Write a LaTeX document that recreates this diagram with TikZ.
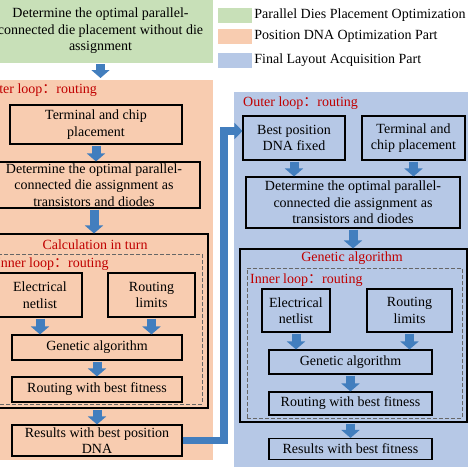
\documentclass[tikz,border=0pt]{standalone}
\usepackage{fontspec}
\setmainfont{Liberation Serif}
\newfontfamily\cjk{Noto Sans CJK SC}
\usetikzlibrary{arrows.meta}
\usetikzlibrary{positioning}
\definecolor{dieGreen}{RGB}{200,224,184}
\definecolor{dnaOrange}{RGB}{248,204,176}
\definecolor{layBlue}{RGB}{182,200,230}
\definecolor{arrBlue}{RGB}{66,126,190}
\definecolor{loopRed}{RGB}{192,0,0}
\newcommand{\fwcolon}{{\cjk ：}}

\begin{document}
\begin{tikzpicture}[x=1pt,y=-1pt,
    font=\fontsize{14}{16.5}\selectfont,
    box/.style={draw=black,line width=1.1pt,align=center,inner sep=0pt},
    region/.style={inner sep=0pt,outer sep=0pt},
    loopbox/.style={draw=gray!80!black,line width=0.8pt,dash pattern=on 4pt off 2pt,inner sep=0pt},
    looptext/.style={text=loopRed,inner sep=0pt},
    keybox/.style={inner sep=0pt,minimum width=34pt,minimum height=15pt},
    flow/.style={draw=arrBlue,line width=9pt,-{Triangle[width=18pt,length=8pt]},shorten <=1pt},
    link/.style={draw=arrBlue,line width=7.5pt,line join=miter,-{Triangle[width=16pt,length=8pt]}}]
    \useasboundingbox (0,0) rectangle (474,474);
    \clip (0,0) rectangle (474,474);
    \fill[white] (0,0) rectangle (474,474);

    \node[region,fill=dieGreen,minimum width=225pt,minimum height=64pt,align=center] (green) at (100.5,31)
      {Determine the optimal parallel-\\connected die placement without die\\assignment};
    \node[region,fill=dnaOrange,minimum width=233pt,minimum height=380pt] (dna) at (96.5,270) {};
    \node[region,fill=layBlue,minimum width=234pt,minimum height=375pt] (lay) at (351,279.5) {};

    \node[keybox,fill=dieGreen]  (keyG) at (235,15) {};
    \node[keybox,fill=dnaOrange] (keyO) at (235,36) {};
    \node[keybox,fill=layBlue]   (keyB) at (235,60) {};
    \node[right=2pt of keyG,inner sep=0pt] (txtG) {Parallel Dies Placement Optimization};
    \node[right=2pt of keyO,inner sep=0pt] (txtO) {Position DNA Optimization Part};
    \node[right=2pt of keyB,inner sep=0pt] (txtB) {Final Layout Acquisition Part};

    \node[looptext,anchor=west] (outerA) at (-18,90) {Outer loop\fwcolon routing};
    \node[box,minimum width=172pt,minimum height=39pt] (term) at (96,124.5) {Terminal and chip\\placement};
    \node[box,minimum width=212pt,minimum height=46pt] (det) at (94,185)
      {Determine the optimal parallel-\\connected die assignment as\\transistors and diodes};
    \node[box,minimum width=226pt,minimum height=174pt] (calc) at (95,321) {};
    \node[looptext] (calcT) at (95,245) {Calculation in turn};
    \node[loopbox,minimum width=214pt,minimum height=150pt] (innerA) at (95,329) {};
    \node[looptext,anchor=west] (innerAT) at (-4,264) {Inner loop\fwcolon routing};
    \node[box,minimum width=84pt,minimum height=44pt] (enet) at (40,295) {Electrical\\netlist};
    \node[box,minimum width=87pt,minimum height=44pt] (rlim) at (151.5,295) {Routing\\limits};
    \node[box,minimum width=170pt,minimum height=25pt] (ga) at (97,347.5) {Genetic algorithm};
    \node[box,minimum width=170pt,minimum height=25pt] (rbest) at (97,389.5) {Routing with best fitness};
    \node[box,minimum width=170pt,minimum height=31pt] (res) at (97,440.5) {Results with best position\\DNA};

    \node[looptext,anchor=west] (outerB) at (243,103) {Outer loop\fwcolon routing};
    \node[box,minimum width=102pt,minimum height=44pt] (bpos) at (294,138) {Best position\\DNA fixed};
    \node[box,minimum width=103pt,minimum height=44pt] (term2) at (413.5,138) {Terminal and\\chip placement};
    \node[box,minimum width=214pt,minimum height=51pt] (det2) at (353,202.5)
      {Determine the optimal parallel-\\connected die assignment as\\transistors and diodes};
    \node[box,minimum width=227pt,minimum height=173pt] (gen) at (353.5,335.5) {};
    \node[looptext] (genT) at (352,258) {Genetic algorithm};
    \node[loopbox,minimum width=215pt,minimum height=150pt] (innerB) at (354.5,343) {};
    \node[looptext,anchor=west] (innerBT) at (250,280) {Inner loop\fwcolon routing};
    \node[box,minimum width=68pt,minimum height=43pt] (enet2) at (296,310.5) {Electrical\\netlist};
    \node[box,minimum width=85pt,minimum height=43pt] (rlim2) at (409.5,310.5) {Routing\\limits};
    \node[box,minimum width=163pt,minimum height=24pt] (ga2) at (350.5,362) {Genetic algorithm};
    \node[box,minimum width=163pt,minimum height=23pt] (rbest2) at (350.5,403.5) {Routing with best fitness};
    \node[box,minimum width=163pt,minimum height=21pt] (res2) at (350.5,449) {Results with best fitness};

    \draw[flow,shorten >=2pt] (green.south) -- (green.south |- dna.north);
    \draw[flow] (term.south) -- (term.south |- det.north);
    \draw[flow] (det.south) -- (det.south |- calc.north);
    \draw[flow] (enet.south) -- (enet.south |- ga.north);
    \draw[flow] (rlim.south) -- (rlim.south |- ga.north);
    \draw[flow] (ga.south) -- (rbest.north);
    \draw[flow] (res.north |- calc.south) -- (res.north);

    \coordinate (bend) at (224,131);
    \draw[link] (res.east) -| (bend) -- (bend -| bpos.west);

    \draw[flow] (bpos.south) -- (bpos.south |- det2.north);
    \draw[flow] (term2.south) -- (term2.south |- det2.north);
    \draw[flow] (det2.south) -- (det2.south |- gen.north);
    \draw[flow] (enet2.south) -- (enet2.south |- ga2.north);
    \draw[flow] (rlim2.south) -- (rlim2.south |- ga2.north);
    \draw[flow] (ga2.south) -- (rbest2.north);
    \draw[flow] (res2.north |- gen.south) -- (res2.north);
\end{tikzpicture}
\end{document}
